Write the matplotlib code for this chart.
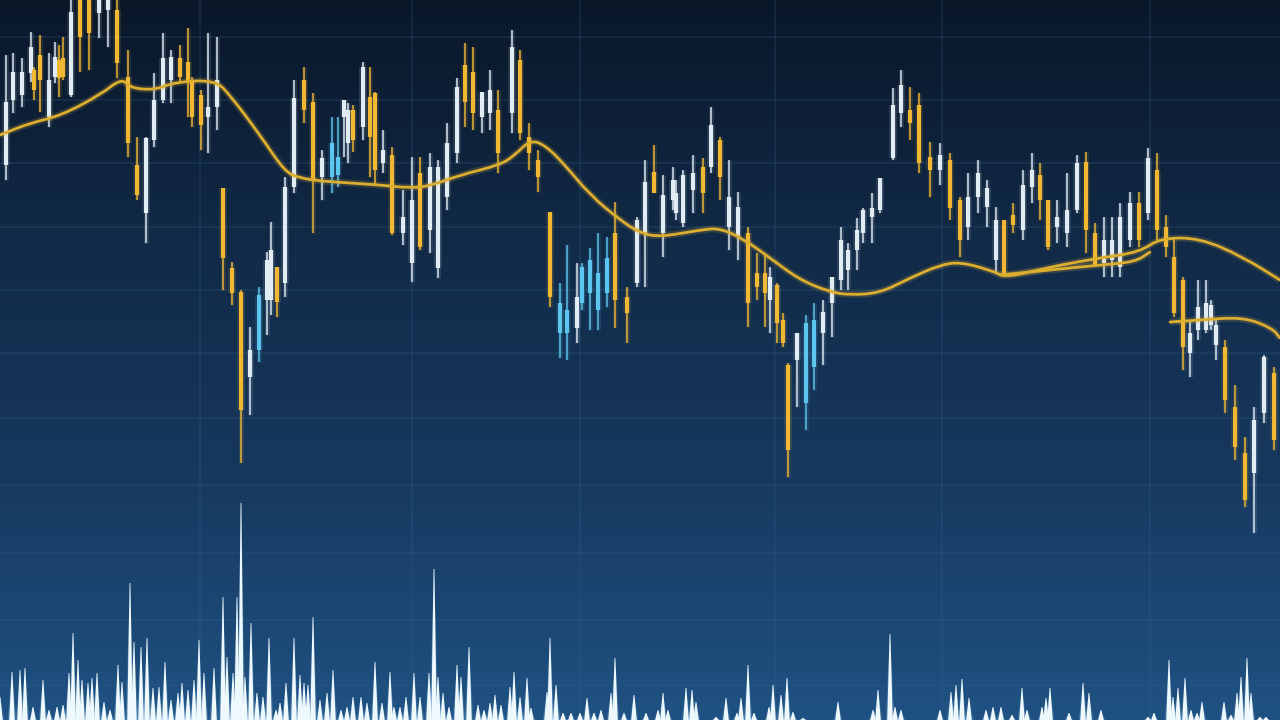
import numpy as np
import matplotlib.pyplot as plt
from matplotlib.colors import LinearSegmentedColormap
from matplotlib.path import Path
from matplotlib.patches import PathPatch

# candle times (chart units) and OHLC
t = [6, 13, 22, 31, 34, 40, 49, 55, 59, 63,
     71, 80, 89, 99, 108, 117, 128, 137, 146, 154,
     163, 171, 180, 188, 192, 201, 208, 217, 223, 232,
     241, 250, 259, 267, 271, 277, 285, 294, 304, 313,
     322, 332, 338, 344, 348, 353, 363, 370, 375, 383,
     392, 403, 412, 420, 430, 438, 447, 457, 465, 473,
     482, 490, 498, 512, 520, 529, 538, 550, 560, 567,
     577, 582, 590, 598, 607, 615, 627, 637,
     645, 654, 663, 673, 676, 683, 693, 703, 711, 720,
     729, 738, 748, 757, 765, 770, 777, 783, 788, 797,
     806, 814, 823, 832, 841, 848, 857, 863, 872, 880,
     893, 901, 910, 919, 930, 940, 950, 960, 968, 978,
     987, 996, 1004, 1013, 1023, 1032, 1040, 1048, 1057, 1067,
     1077, 1086, 1095, 1104, 1112, 1120, 1130, 1139, 1148, 1157,
     1166, 1174, 1183, 1190, 1198, 1206, 1211, 1216, 1225, 1235,
     1245, 1254, 1264, 1274]

opens = [555, 620, 625, 647, 650, 665, 603, 643, 660, 662,
         625, 725, 722, 707, 710, 710, 643, 555, 507, 580,
         620, 640, 662, 658, 638, 625, 603, 613, 532, 452,
         428, 343, 370, 420, 420, 453, 437, 533, 640, 618,
         543, 543, 545, 603, 577, 610, 593, 623, 627, 557,
         565, 487, 457, 547, 490, 452, 523, 567, 655, 648,
         603, 607, 610, 607, 660, 583, 560, 508, 387, 387,
         392, 417, 427, 410, 427, 487, 423, 437,
         487, 548, 487, 520, 507, 497, 530, 553, 553, 580,
         493, 483, 487, 447, 447, 420, 435, 400, 355, 360,
         317, 353, 387, 417, 440, 450, 470, 487, 503, 510,
         562, 607, 610, 615, 563, 550, 560, 520, 493, 523,
         513, 460, 500, 505, 490, 533, 545, 520, 493, 487,
         510, 558, 487, 457, 460, 453, 480, 517, 507, 550,
         493, 463, 440, 367, 390, 390, 395, 375, 373, 313,
         267, 247, 307, 347]

closes = [618, 648, 648, 673, 630, 640, 640, 663, 642, 643,
          708, 683, 687, 735, 738, 657, 577, 525, 582, 620,
          662, 663, 643, 640, 603, 595, 613, 640, 462, 427,
          310, 370, 425, 460, 470, 418, 533, 622, 610, 540,
          562, 577, 563, 620, 610, 580, 653, 583, 550, 570,
          487, 503, 520, 473, 553, 553, 577, 633, 618, 607,
          628, 630, 567, 673, 587, 567, 543, 423, 417, 410,
          423, 453, 460, 447, 462, 420, 407, 500,
          538, 527, 525, 540, 527, 545, 547, 527, 595, 543,
          523, 513, 417, 433, 427, 443, 397, 377, 270, 387,
          397, 400, 408, 443, 480, 470, 490, 510, 512, 542,
          615, 635, 597, 557, 550, 565, 512, 480, 523, 547,
          532, 500, 447, 495, 535, 550, 520, 473, 503, 510,
          557, 490, 455, 480, 480, 503, 517, 480, 562, 490,
          473, 407, 373, 387, 413, 417, 415, 395, 320, 273,
          220, 300, 363, 280]

highs = [665, 667, 662, 688, 653, 685, 667, 678, 675, 683,
         725, 730, 735, 740, 740, 725, 670, 583, 583, 647,
         687, 670, 675, 692, 643, 630, 687, 683, 532, 458,
         430, 393, 433, 468, 498, 453, 543, 640, 653, 627,
         570, 603, 603, 620, 617, 615, 658, 653, 628, 590,
         573, 530, 563, 563, 567, 560, 597, 642, 677, 673,
         628, 650, 630, 690, 670, 597, 570, 508, 437, 475,
         457, 457, 472, 487, 483, 518, 433, 503,
         560, 575, 545, 553, 540, 550, 565, 562, 613, 583,
         560, 528, 493, 467, 467, 453, 437, 407, 357, 387,
         405, 417, 420, 443, 493, 477, 502, 512, 527, 542,
         632, 650, 633, 627, 578, 577, 567, 523, 547, 560,
         540, 513, 500, 517, 550, 567, 557, 520, 520, 547,
         565, 568, 497, 503, 503, 517, 528, 528, 572, 567,
         505, 483, 443, 400, 440, 440, 420, 400, 380, 335,
         283, 313, 365, 353]

lows = [540, 607, 613, 638, 620, 608, 593, 637, 623, 640,
        623, 648, 650, 682, 673, 642, 563, 520, 477, 573,
        617, 617, 638, 603, 593, 570, 567, 590, 430, 415,
        257, 305, 358, 385, 405, 403, 423, 527, 597, 487,
        520, 527, 533, 563, 557, 568, 580, 543, 535, 547,
        485, 475, 438, 470, 467, 442, 510, 557, 593, 590,
        587, 590, 547, 587, 580, 550, 528, 413, 362, 360,
        377, 410, 390, 390, 413, 392, 377, 433,
        433, 527, 463, 510, 500, 493, 507, 507, 547, 520,
        470, 460, 393, 420, 393, 387, 377, 373, 243, 313,
        290, 330, 355, 383, 430, 430, 450, 477, 477, 507,
        560, 593, 580, 547, 523, 535, 500, 463, 480, 507,
        493, 447, 443, 487, 480, 517, 500, 470, 477, 473,
        507, 467, 453, 443, 443, 443, 473, 473, 500, 480,
        463, 403, 350, 343, 380, 387, 390, 360, 307, 260,
        213, 187, 297, 270]

# g = gold, w = white, b = light blue
kind = ("wwwwggwwgg" "wggwwgggww" "wwggggwwgg" "gwbwwgwwgg"
        "wbbwwgwggw" "gwwgwwwwgg" "wwgwggggbb" "wbbbbggw"
        "wgwwwwwgwg" "wwgggwgggw" "bbwwwwwwww" "wwgggwggww"
        "wwggwwggww" "wggwwwwgwg" "gggwwwwwgg" "gwwg")

# moving averages
ma_t = [0, 30, 60, 100, 122, 130, 155, 175, 215, 230, 260, 285, 300, 320,
        350, 380, 410, 430, 460, 500, 515, 530, 545, 565, 590, 620, 640,
        660, 700, 720, 745, 770, 800, 830, 850, 880, 910, 940, 960, 990,
        1005, 1030, 1060, 1100, 1140, 1160, 1200, 1243, 1280]
ma_v = [585, 597, 604, 625, 642, 632, 630, 638, 640, 625, 585, 548, 542, 539,
        537, 535, 532, 534, 545, 555, 565, 580, 575, 555, 525, 500, 487,
        483, 490, 492, 480, 462, 440, 428, 425, 427, 442, 455, 458, 450,
        443, 448, 455, 462, 468, 482, 482, 463, 440]
ma2_t = [1000, 1050, 1100, 1135, 1150]
ma2_v = [445, 450, 455, 458, 468]
ma3_t = [1170, 1200, 1243, 1272, 1280]
ma3_v = [398, 400, 403, 392, 382]

# volume spikes
vol_t = [0, 12, 20, 25, 33, 43, 49, 57, 63, 69, 73, 78, 82, 88, 92, 97, 104, 110,
         118, 122, 130, 134, 141, 147, 153, 159, 165, 171, 178, 182, 188, 194,
         199, 204, 214, 223, 227, 233, 237, 241, 245, 251, 257, 263, 269, 276,
         280, 286, 294, 300, 304, 308, 313, 320, 327, 333, 341, 347, 353, 361,
         367, 375, 382, 390, 394, 400, 406, 414, 420, 429, 434, 438, 443, 449,
         457, 461, 469, 478, 484, 490, 495, 501, 510, 514, 520, 527, 531, 547,
         550, 556, 563, 571, 580, 587, 594, 601, 611, 615, 624, 634,
         646, 658, 663, 668, 686, 692, 696, 716, 726, 737, 741, 748, 754, 769,
         773, 781, 787, 793, 803, 838, 873, 878, 890, 895, 901, 940, 951, 956,
         962, 969, 986, 993, 1001, 1012, 1022, 1027, 1042, 1046, 1050, 1069,
         1083, 1089, 1101, 1148, 1154, 1169, 1173, 1178, 1185, 1191, 1197, 1202,
         1224, 1231, 1237, 1241, 1247, 1251, 1260, 1266]
vol = [23, 48, 50, 52, 13, 40, 10, 13, 15, 47, 87, 60, 40, 37, 42, 47, 18, 10,
       55, 38, 137, 78, 73, 82, 32, 33, 58, 20, 27, 37, 30, 40,
       80, 47, 52, 123, 63, 47, 123, 217, 43, 97, 27, 23, 82, 10,
       17, 37, 82, 45, 37, 35, 103, 20, 27, 50, 10, 13, 23, 23,
       17, 58, 17, 48, 13, 13, 23, 47, 23, 47, 151, 43, 27, 13,
       55, 43, 73, 15, 10, 17, 25, 15, 33, 48, 23, 42, 12, 28,
       82, 35, 7, 7, 7, 22, 7, 10, 27, 62, 7, 25,
       7, 10, 27, 10, 32, 30, 18, 3, 22, 7, 22, 55, 7, 13,
       35, 25, 42, 8, 2, 18, 10, 30, 86, 13, 10, 10, 28, 35,
       41, 22, 10, 13, 13, 5, 32, 10, 13, 22, 32, 7,
       37, 27, 10, 3, 7, 60, 23, 32, 42, 10, 7, 18,
       18, 5, 27, 43, 62, 27, 3, 3]

GOLD = '#f2b834'
WHITE = '#e2ecf5'
BLUE = '#5cc6f0'
colors = {'g': GOLD, 'w': WHITE, 'b': BLUE}


def smooth_path(xs, ys):
    # quadratic B-spline through the midpoints, control at the data points
    pts = list(zip(xs, ys))
    verts = [pts[0], ((pts[0][0] + pts[1][0]) / 2, (pts[0][1] + pts[1][1]) / 2)]
    codes = [Path.MOVETO, Path.LINETO]
    for k in range(1, len(pts) - 1):
        mid = ((pts[k][0] + pts[k + 1][0]) / 2, (pts[k][1] + pts[k + 1][1]) / 2)
        verts += [pts[k], mid]
        codes += [Path.CURVE3, Path.CURVE3]
    verts.append(pts[-1])
    codes.append(Path.LINETO)
    return Path(verts, codes)


fig = plt.figure(figsize=(12.8, 7.2), dpi=100)
ax = fig.add_axes([0, 0, 1, 1])
ax.set_xlim(0, 1280)
ax.set_ylim(0, 720)
ax.axis('off')

# background gradient
bg = LinearSegmentedColormap.from_list('bg', ['#0a1729', '#112a47', '#17395f', '#1f5283'])
grad = np.linspace(0, 1, 256).reshape(-1, 1)
ax.imshow(grad, cmap=bg, aspect='auto', extent=[0, 1280, 0, 720], origin='upper', zorder=0)

for gy in [683, 620, 557, 493, 430, 367, 302, 235, 167, 100, 35]:
    ax.axhline(gy, color='#3a6690', lw=1.4, alpha=0.2, zorder=1)
for gx in [200, 412, 580, 775, 942, 1150]:
    ax.axvline(gx, color='#3a6690', lw=1.4, alpha=0.2, zorder=1)

# volume
for vt, v in zip(vol_t, vol):
    ax.fill([vt - 4.5, vt, vt + 4.5], [0, v * 1.02, 0], color='#9fdcff', alpha=0.18, lw=0, zorder=2)
    ax.fill([vt - 2.8, vt - 0.4, vt + 0.4, vt + 2.8], [0, v, v, 0], color='#eef8ff', lw=0, zorder=3)

# candles
for i in range(len(t)):
    c = colors[kind[i]]
    lo, hi = min(opens[i], closes[i]), max(opens[i], closes[i])
    ax.vlines(t[i], lows[i], highs[i], color=c, lw=3.5, alpha=0.12, zorder=4)
    ax.bar(t[i], hi - lo, bottom=lo, width=8, color=c, alpha=0.12, lw=0, zorder=4)
    ax.vlines(t[i], lows[i], highs[i], color=c, lw=1.1, alpha=0.95, zorder=5)
    ax.bar(t[i], hi - lo, bottom=lo, width=4.6, color=c, lw=0, zorder=6)

# moving average lines
for mt, mv in [(ma_t, ma_v), (ma2_t, ma2_v), (ma3_t, ma3_v)]:
    p = smooth_path(mt, mv)
    ax.add_patch(PathPatch(p, fill=False, edgecolor='#e8b534', lw=5, alpha=0.18, zorder=7))
    ax.add_patch(PathPatch(p, fill=False, edgecolor='#dcae30', lw=2, capstyle='round',
                           joinstyle='round', zorder=8))

fig.savefig('out.png', dpi=100)
